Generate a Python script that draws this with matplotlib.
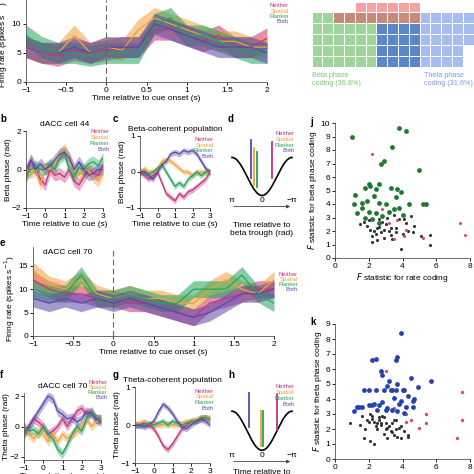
import numpy as np
import matplotlib
matplotlib.use("Agg")
import matplotlib.pyplot as plt
from matplotlib.patches import Rectangle

plt.rcParams['font.family'] = ['Liberation Sans', 'DejaVu Sans']
FS = 6
conds = ["Neither", "Spatial", "Flanker", "Both"]
cols = ["#c8307c", "#f2a03a", "#22a45a", "#5a48a8"]

# ---------------- data ----------------
t_a = [-1, -0.8, -0.6, -0.4, -0.2, 0, 0.2, 0.4, 0.6, 0.8, 1.0, 1.2, 1.4, 1.6, 1.8, 2.0]
a_vals = {
    "Neither": [6, 5, 4.5, 5.5, 5, 5.5, 6, 6, 9, 9, 8, 7, 8, 6, 6, 7.5],
    "Spatial": [6, 5, 5, 8, 5, 6, 5.5, 9, 11, 10, 9, 8, 7, 7, 6, 6],
    "Flanker": [8, 6, 5, 5, 4.5, 5, 5, 5, 10, 11, 8, 8, 7, 6, 5, 5],
    "Both":    [6, 5, 5, 6, 5, 6, 6, 6, 10, 9, 8, 7, 6, 6, 6, 5],
}
e_vals = {
    "Neither": [12, 10, 9, 9, 8, 8, 7, 7, 6, 5, 4, 7, 8, 9, 10, 10],
    "Spatial": [14, 11, 10, 12, 9, 8, 9, 8, 8, 7, 7, 10, 12, 10, 9, 12],
    "Flanker": [10, 9, 9, 13, 8, 8, 9, 8, 7, 7, 10, 10, 10, 13, 9, 7],
    "Both":    [8, 7, 8, 7, 8, 7, 8, 7, 6, 5, 4, 5, 7, 9, 9, 10],
}
rate_band = 1.8

t_b = [-1, -0.75, -0.5, -0.25, 0, 0.25, 0.5, 0.75, 1.0, 1.25, 1.5, 1.75, 2.0, 2.25, 2.5, 2.75, 3.0]
b_vals = {
    "Neither": [-0.5, 0.5, 0, -0.5, -0.8, 0, -0.3, -0.2, -0.4, 0, -0.6, -0.8, -0.4, 0, -0.2, -0.3, 0.2],
    "Spatial": [0, -0.2, 0, -0.8, 0.2, 0, 0.3, 0.8, 1.1, 0.5, 0, -0.3, -0.1, 0, -0.4, -0.6, -0.2],
    "Flanker": [-0.3, 0, 0.2, 0, 0, 0.3, 0, 0.6, 0.8, 0, -0.4, 0.1, 0, 0.3, 0.4, 0.2, 0.6],
    "Both":    [0, 0.5, 0, 0.3, 0, 0.2, 0.5, 0.8, 0.9, 0.6, 0, 0.4, 0, -0.3, -0.2, 0, 0],
}
c_vals = {
    "Neither": [0, -0.1, -0.2, -0.1, 0, -0.3, -0.6, -0.7, -0.8, -0.6, -0.7, -0.55, -0.5, -0.4, -0.3, -0.2, 0],
    "Spatial": [0, 0.1, 0, 0, 0.1, 0.3, 0.35, 0.3, 0.2, 0.1, 0, 0, -0.1, 0, 0, 0, 0],
    "Flanker": [0, 0, -0.05, 0, 0.1, 0.2, 0, -0.2, -0.4, -0.3, -0.4, -0.2, -0.1, 0, -0.1, 0, 0],
    "Both":    [0, 0, -0.1, -0.2, 0, 0.2, 0.3, 0.5, 0.55, 0.5, 0.6, 0.55, 0.6, 0.5, 0.3, 0.1, 0],
}
f_vals = {
    "Neither": [-0.5, 0, 0.5, 0.3, 0, -0.5, -0.3, 0, 0.5, 0, 0.5, 1, 1.2, 0.8, 1, 0.5, 0.5],
    "Spatial": [0, -0.5, -0.8, -0.3, -0.5, -1, -0.5, -1, -0.5, -0.8, -0.5, -0.3, 0, 0.5, 0, 0.3, 0.5],
    "Flanker": [0, -0.3, -0.2, -0.5, 0, -0.5, -0.8, -1.5, -1.8, -1.2, -0.5, 0, -0.3, 0.5, 1, 0.5, 0.5],
    "Both":    [-0.5, 0, 0.5, 1, 1.5, 2, 1.8, 1, 0.8, 0.5, 0.6, 0.3, 0.5, 1, 0.8, 0.5, 0.3],
}
g_vals = {
    "Neither": [0, 0, 0.05, 0, -0.1, -0.3, -0.55, -0.65, -0.5, -0.3, -0.1, 0, 0.1, 0.1, 0.15, 0.2, 0.15],
    "Spatial": [0, 0.05, 0.1, 0, 0.05, 0, 0, 0.05, 0, 0, 0.05, 0.1, 0.1, 0.15, 0.2, 0.2, 0.2],
    "Flanker": [0, 0, 0, 0.05, 0, 0.05, 0.1, 0, 0.1, 0.05, 0, 0.05, 0.1, 0.1, 0.2, 0.2, 0.15],
    "Both":    [0, 0, -0.05, 0, 0.1, 0.35, 0.55, 0.45, 0.3, 0.1, -0.05, -0.1, 0, 0.1, 0.15, 0.1, 0],
}
cell_band, pop_band = 0.3, 0.08

# preferred phase bars: x position, bottom, top
d_bars = {"Both": (-1.1, -0.06, 1.94), "Spatial": (-0.8, -0.44, 1.5),
          "Flanker": (-0.5, -0.56, 1.31), "Neither": (1.0, -0.1, 1.8)}
h_bars = {"Both": (-1.4, 0.18, 1.94), "Spatial": (-0.06, -0.76, 1.0),
          "Flanker": (0.06, -0.76, 1.0), "Neither": (1.55, 0.06, 1.88)}

# waffle: rows top->bottom, list of (start_col, n_cells, colour key)
waffle_rows = [
    [(4, 6, "r")],
    [(0, 2, "g"), (2, 8, "br"), (10, 5, "lb")],
    [(0, 6, "g"), (6, 4, "db"), (10, 5, "lb")],
    [(0, 6, "g"), (6, 4, "db"), (10, 5, "lb")],
    [(0, 6, "g"), (6, 4, "db"), (10, 4, "lb")],
    [(0, 6, "g"), (6, 4, "db"), (10, 4, "lb")],
]
waffle_cols = {"r": "#f4a3a3", "g": "#9fd49a", "br": "#c68a78", "db": "#5b86cc", "lb": "#a7bdf0"}

j_green_x = [1, 2.7, 2.9, 3.4, 3.8, 4.2, 5, 5.2, 5.4, 1.2, 1.1, 1.6, 1.9, 2, 2.1, 2.4, 2.6, 1.8, 2.3, 2.6, 3, 3.3, 3.7, 3.9, 3.6, 4.4, 1.3, 1.6, 2, 2.4, 2.8, 3.2, 3.5, 3.8, 4, 1.8, 2.2, 2.6]
j_green_y = [9, 7, 7.2, 8.2, 9.6, 9.4, 6.5, 4, 4, 4.7, 4, 4.1, 4.2, 5.5, 5.3, 5.1, 5.5, 5.2, 4.6, 4.1, 4, 5.2, 5.1, 4.9, 4.5, 4, 3.3, 3.7, 3.4, 3.3, 3.1, 3.4, 3.6, 3.7, 3.2, 3, 2.9, 2.6]
j_pink_x = [2.2, 2.8, 3.7, 4.2, 7.4, 7.7, 5.2, 4.1, 3.2, 3.5]
j_pink_y = [7.7, 3.6, 2.8, 2.1, 2.6, 1.7, 1.5, 1.6, 2.6, 1.4]
j_grey_x = [2.2, 2.5, 3.4, 3.9, 5.6, 5.1, 5.6, 4.6, 4.3, 4.0, 3.6, 3.2, 2.9, 2.6, 2.4, 2.1, 1.9, 1.7, 2.0, 2.3, 2.7, 3.0, 3.3, 3.8, 4.2, 4.7, 3.1, 2.8, 2.5, 3.5, 4.5, 1.5, 2.2, 2.9, 3.6, 4.1, 3.3, 2.6]
j_grey_y = [1.2, 1.3, 1.4, 0.7, 1.0, 1.6, 1.7, 1.9, 2.0, 1.8, 2.2, 2.0, 2.1, 2.3, 1.8, 2.1, 2.4, 2.7, 2.8, 2.0, 1.9, 2.5, 2.2, 2.9, 2.6, 2.4, 3.0, 2.7, 2.2, 3.2, 3.1, 2.5, 1.6, 1.5, 1.9, 2.9, 1.7, 2.9]

k_blue_x = [3.9, 3.6, 3.7, 2.2, 2.4, 2.7, 2.8, 3.1, 3.2, 3.4, 3.7, 4.1, 4.5, 4.9, 5.7, 1.7, 2.0, 2.4, 2.9, 3.3, 3.6, 4.0, 4.3, 4.7, 1.1, 1.4, 1.6, 2.2, 2.6, 3.0, 3.4, 3.8, 4.2, 4.6, 2.0, 2.5, 3.1, 3.7, 4.1, 1.3, 2.8, 3.5, 4.6, 2.3, 3.9]
k_blue_y = [8.4, 6.6, 6.8, 6.6, 6.7, 5.9, 5.6, 4.9, 5.2, 4.6, 5.0, 4.6, 5.4, 4.8, 5.2, 4.6, 4.6, 4.6, 4.6, 4.6, 4.6, 4.6, 4.2, 4.0, 3.2, 3.5, 3.5, 3.6, 3.6, 3.3, 3.3, 3.7, 3.5, 3.5, 3.6, 3.3, 3.4, 3.2, 3.1, 3.5, 3.8, 4.1, 3.9, 3.7, 3.9]
k_pink_x = [3.0, 3.5, 4.2, 4.5, 5.0, 5.4, 5.4, 7.2, 7.5, 7.5, 4.2]
k_pink_y = [5.9, 3.4, 3.0, 2.6, 2.1, 2.4, 3.0, 1.4, 2.6, 4.5, 2.5]
k_grey_x = [0.9, 1.7, 2.1, 2.3, 2.5, 2.7, 2.9, 3.1, 3.3, 3.5, 3.7, 3.9, 4.1, 4.3, 1.8, 2.0, 2.2, 2.4, 2.6, 2.8, 3.0, 3.2, 3.4, 3.6, 3.8, 1.5, 1.9, 2.3, 2.7, 3.1, 3.5, 3.9, 2.2, 2.6, 3.0, 3.4, 2.5, 1.6, 2.1, 2.9, 3.6, 4.3]
k_grey_y = [2.4, 1.4, 1.2, 1.0, 2.0, 2.4, 2.8, 1.4, 1.9, 1.6, 1.5, 1.4, 1.9, 1.6, 2.0, 2.5, 2.7, 2.2, 2.8, 2.9, 2.0, 2.2, 2.4, 2.6, 2.1, 2.3, 2.6, 2.5, 2.3, 2.1, 2.6, 2.2, 2.9, 2.6, 2.4, 1.8, 2.4, 2.9, 3.0, 1.7, 2.0, 1.5]

# ---------------- figure ----------------
W = H = 474
fig = plt.figure(figsize=(W / 100, H / 100), dpi=100)

def axpx(x0, y0, x1, y1):
    return fig.add_axes([x0 / W, 1 - y1 / H, (x1 - x0) / W, (y1 - y0) / H])

def style(ax):
    for s in ("top", "right"):
        ax.spines[s].set_visible(False)
    for s in ("left", "bottom"):
        ax.spines[s].set_linewidth(0.6)
        ax.spines[s].set_color("#555555")
    ax.tick_params(labelsize=FS, length=2, width=0.6, pad=1.5)

def legend_text(ax, x, y, dy):
    for i, (c, col) in enumerate(zip(conds, cols)):
        ax.text(x, y - i * dy, c, color=col, fontsize=4.2, ha="right", va="top", transform=ax.transAxes)

def series_plot(ax, t, vals, band, alpha=0.55):
    for c, col in zip(conds, cols):
        v = np.array(vals[c], float)
        ax.fill_between(t, v - band, v + band, color=col, alpha=alpha, lw=0)
    for c, col in zip(conds, cols):
        ax.plot(t, vals[c], color=col, lw=0.9)

# panel a
ax = axpx(26, 0, 267, 82)
series_plot(ax, t_a, a_vals, rate_band)
ax.axvline(0, color="#666666", ls=(0, (5, 3)), lw=0.8)
ax.set_xlim(-1, 2); ax.set_ylim(0, 14.1)
ax.set_xticks([-1, -0.5, 0, 0.5, 1, 1.5, 2]); ax.set_xticklabels(["−1", "−0.5", "0", "0.5", "1", "1.5", "2"])
ax.set_yticks([0, 5, 10])
ax.set_xlabel("Time relative to cue onset (s)", fontsize=FS, labelpad=1)
ax.set_ylabel("Firing rate (spikes s$^{-1}$)", fontsize=FS, labelpad=1, y=0.45)
style(ax); legend_text(ax, 1.09, 0.96, 0.065)

# waffle
axw = axpx(300, 0, 474, 100)
axw.set_xlim(300, 474); axw.set_ylim(100, 0); axw.axis("off")
cw, ch = 10.8, 10.9
for r, row in enumerate(waffle_rows):
    for start, n, key in row:
        for k in range(n):
            axw.add_patch(Rectangle((312 + (start + k) * cw + 0.5, 2 + r * ch + 0.5), cw - 1, ch - 1,
                                    color=waffle_cols[key], lw=0))
axw.text(312, 72, "Beta phase\ncoding (36.8%)", color="#7fc57a", fontsize=5.2, va="top")
axw.text(424, 72, "Theta phase\ncoding (31.6%)", color="#7f9be6", fontsize=5.2, va="top")

# panel b, c, f, g
def phase_panel(box, t, vals, band, ylim, yticks, ylabel, title, letter, leg, xlabel=True):
    ax = axpx(*box)
    series_plot(ax, t, vals, band, alpha=0.4)
    ax.set_xlim(-1, 3); ax.set_ylim(*ylim)
    ax.set_xticks([-1, 0, 1, 2, 3]); ax.set_xticklabels(["−1", "0", "1", "2", "3"])
    ax.set_yticks(yticks); ax.set_yticklabels([("−" + str(-v)) if v < 0 else str(v) for v in yticks])
    if xlabel:
        ax.set_xlabel("Time relative to cue (s)", fontsize=FS, labelpad=1)
    ax.set_ylabel(ylabel, fontsize=FS, labelpad=0)
    style(ax)
    ax.text(0.5, 1.07, title, fontsize=FS, ha="center", transform=ax.transAxes)
    legend_text(ax, leg[0], leg[1], 0.075)
    fig.text(letter[0] / W, 1 - letter[1] / H, letter[2], fontsize=7, fontweight="bold")
    return ax

phase_panel((26, 131, 103, 208), t_b, b_vals, cell_band, (-2, 2), [-2, 0, 2], "Beta phase (rad)",
            "dACC cell 44", (0, 122, "b"), (1.08, 1.02))
phase_panel((140, 136, 210, 208), t_b, c_vals, pop_band, (-1, 1), [-1, 0, 1], "Beta phase (rad)",
            "Beta-coherent population", (113, 122, "c"), (1.05, 0.98))
phase_panel((24, 393, 101, 460), t_b, f_vals, cell_band, (-2.2, 2.2), [-2, 0, 2], "Theta phase (rad)",
            "dACC cell 70", (0, 378, "f"), (1.08, 1.2))
phase_panel((135, 387, 210, 463), t_b, g_vals, pop_band, (-1, 1), [-1, 0, 1], "Theta phase (rad)",
            "Theta-coherent population", (113, 378, "g"), (1.05, 0.98))

# panel d, h
def trough_panel(box, bars, band_name, letter, arrow_y, with_label=True):
    x0, y0, x1, y1 = box
    ax = axpx(x0, y0, x1, y1)
    xs = np.linspace(-np.pi, np.pi, 200)
    ax.plot(xs, -np.cos(xs), color="black", lw=1.2)
    for c, col in zip(conds, cols):
        xb, lo, hi = bars[c]
        ax.plot([xb, xb], [lo, hi], color=col, lw=1.3)
    ax.set_xlim(-np.pi - 0.1, np.pi + 0.1); ax.set_ylim(-1.5, 2.6)
    ax.axis("off")
    ax.annotate("", xy=(1.0, arrow_y), xytext=(0.0, arrow_y), xycoords="axes fraction",
                arrowprops=dict(arrowstyle="-|>", lw=0.6, color="#444444", mutation_scale=5))
    for xv, lab in [(-np.pi, "π"), (0, "0"), (np.pi, "−π")]:
        ax.text(xv, -1.25, lab, fontsize=FS, ha="center", va="center")
    if with_label:
        ax.text(0.5, -0.22, "Time relative to\n" + band_name + " trough (rad)", fontsize=FS,
                ha="center", va="top", transform=ax.transAxes)
    legend_text(ax, 1.02, 0.95, 0.075)
    fig.text(letter[0] / W, 1 - letter[1] / H, letter[2], fontsize=7, fontweight="bold")

trough_panel((231, 127, 293, 205), d_bars, "beta", (228, 122, "d"), -0.02)
trough_panel((231, 380, 293, 460), h_bars, "theta", (228, 378, "h"), -0.02, with_label=False)
fig.text(262 / W, 1 - 476 / H, "Time relative to", fontsize=FS, ha="center", va="bottom")

# panel e
ax = axpx(33, 247, 274, 336)
series_plot(ax, t_a, e_vals, rate_band)
ax.axvline(0, color="#666666", ls=(0, (5, 3)), lw=0.8)
ax.set_xlim(-1, 2); ax.set_ylim(0, 19)
ax.set_xticks([-1, -0.5, 0, 0.5, 1, 1.5, 2]); ax.set_xticklabels(["−1", "−0.5", "0", "0.5", "1", "1.5", "2"])
ax.set_yticks([0, 5, 10, 15])
ax.set_xlabel("Time relative to cue onset (s)", fontsize=FS, labelpad=1)
ax.set_ylabel("Firing rate (spikes s$^{-1}$)", fontsize=FS, labelpad=1, y=0.42)
style(ax); legend_text(ax, 1.1, 0.72, 0.055)
ax.text(0.04, 0.98, "dACC cell 70", fontsize=FS, transform=ax.transAxes, va="top")
fig.text(0, 1 - 246 / H, "e", fontsize=7, fontweight="bold")

# panel j
ax = axpx(335, 123, 470, 258)
ax.scatter(j_grey_x, j_grey_y, s=5, color="#333333", lw=0)
ax.scatter(j_pink_x, j_pink_y, s=5, color="#d05070", lw=0)
ax.scatter(j_green_x, j_green_y, s=12, color="#1e7a2e", lw=0)
ax.set_xlim(0, 8); ax.set_ylim(0, 10)
ax.set_xticks([0, 2, 4, 6, 8]); ax.set_yticks(range(0, 11))
ax.set_xlabel("$F$ statistic for rate coding", fontsize=FS, labelpad=1)
ax.set_ylabel("$F$ statistic for beta phase coding", fontsize=FS, labelpad=1)
style(ax)
fig.text(310 / W, 1 - 125 / H, "j", fontsize=7, fontweight="bold")

# panel k
ax = axpx(335, 324, 470, 459)
ax.scatter(k_grey_x, k_grey_y, s=5, color="#333333", lw=0)
ax.scatter(k_pink_x, k_pink_y, s=6, color="#d05070", lw=0)
ax.scatter(k_blue_x, k_blue_y, s=12, color="#2742b0", lw=0)
ax.set_xlim(0, 8); ax.set_ylim(0, 9)
ax.set_xticks([0, 2, 4, 6, 8]); ax.set_yticks(range(0, 10))
ax.set_ylabel("$F$ statistic for theta phase coding", fontsize=FS, labelpad=1)
style(ax)
fig.text(310 / W, 1 - 325 / H, "k", fontsize=7, fontweight="bold")

fig.savefig("out.png", dpi=100)
